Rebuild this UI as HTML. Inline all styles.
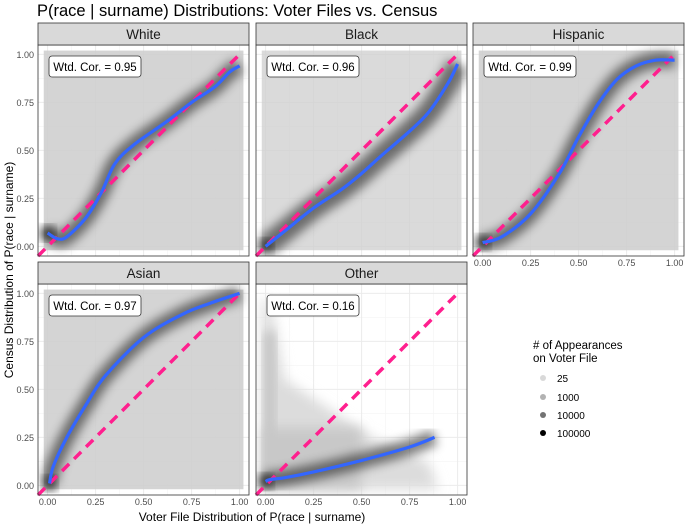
<!DOCTYPE html>
<html><head><meta charset="utf-8"><style>
body{margin:0;background:#fff;}
svg{display:block;font-family:"Liberation Sans",sans-serif;}
</style></head><body>
<svg id="chart" width="685" height="525" viewBox="0 0 685 525">
<defs><filter id="blur" x="-20%" y="-20%" width="140%" height="140%"><feGaussianBlur stdDeviation="5"/></filter>
<filter id="blur2" x="-20%" y="-20%" width="140%" height="140%"><feGaussianBlur stdDeviation="6"/></filter></defs>
<text x="37" y="16" font-size="16.5" fill="#000">P(race | surname) Distributions: Voter Files vs. Census</text>
<text transform="translate(13,270) rotate(-90)" text-anchor="middle" font-size="12">Census Distribution of P(race | surname)</text>
<text x="252" y="521" text-anchor="middle" font-size="12">Voter File Distribution of P(race | surname)</text>
<g>
<text x="533" y="349" font-size="11.5">&#35; of Appearances</text>
<text x="533" y="362" font-size="11.5">on Voter File</text>
<circle cx="543" cy="378" r="3" fill="#000" opacity="0.15"/><text x="557" y="382" font-size="10">25</text>
<circle cx="543" cy="397" r="3" fill="#000" opacity="0.3"/><text x="557" y="401" font-size="10">1000</text>
<circle cx="543" cy="415" r="3" fill="#000" opacity="0.55"/><text x="557" y="419" font-size="10">10000</text>
<circle cx="543" cy="433" r="3" fill="#000" opacity="1"/><text x="557" y="437" font-size="10">100000</text>
</g>
</svg>
<script>
const panelNames = ["White","Black","Hispanic","Asian","Other"];
const correlations = ["0.95","0.96","0.99","0.97","0.16"];
const tickValues = [0,0.25,0.5,0.75,1];
const tickLabels = ["0.00","0.25","0.50","0.75","1.00"];
const smoothWhiteX = [0,0.05,0.1,0.2,0.28,0.35,0.45,0.62,0.75,0.87,0.95,1];
const smoothWhiteY = [0.07,0.04,0.05,0.15,0.28,0.43,0.53,0.65,0.75,0.83,0.91,0.94];
const smoothBlackX = [0,0.1,0.25,0.4,0.5,0.6,0.75,0.85,0.95,1];
const smoothBlackY = [0,0.08,0.2,0.3,0.38,0.47,0.6,0.7,0.85,0.95];
const smoothHispanicX = [0,0.1,0.25,0.4,0.5,0.6,0.7,0.8,0.9,1];
const smoothHispanicY = [0.02,0.05,0.17,0.38,0.57,0.74,0.87,0.94,0.97,0.97];
const smoothAsianX = [0.01,0.03,0.1,0.2,0.3,0.5,0.7,0.85,1];
const smoothAsianY = [0.01,0.1,0.25,0.42,0.57,0.77,0.89,0.95,1];
const smoothOtherX = [0,0.02,0.1,0.25,0.5,0.75,0.88];
const smoothOtherY = [0.02,0.03,0.04,0.07,0.13,0.2,0.25];
const smoothX=[smoothWhiteX,smoothBlackX,smoothHispanicX,smoothAsianX,smoothOtherX];
const smoothY=[smoothWhiteY,smoothBlackY,smoothHispanicY,smoothAsianY,smoothOtherY];

const NS="http://www.w3.org/2000/svg";
const svg=document.getElementById("chart");
const colX=[38,256,473], stripTop=[23,262], W=211, SH=22;
function mk(tag,attrs,parent){const e=document.createElementNS(NS,tag);for(const k in attrs)e.setAttribute(k,attrs[k]);(parent||svg).appendChild(e);return e;}
function smoothPath(xs,ys,sx,sy){
  const p=xs.map((x,i)=>[sx(x),sy(ys[i])]);
  let d="M"+p[0][0]+","+p[0][1];
  for(let i=0;i<p.length-1;i++){
    const p0=p[i-1]||p[i],p1=p[i],p2=p[i+1],p3=p[i+2]||p2;
    const c1=[p1[0]+(p2[0]-p0[0])/6,p1[1]+(p2[1]-p0[1])/6],c2=[p2[0]-(p3[0]-p1[0])/6,p2[1]-(p3[1]-p1[1])/6];
    d+=" C"+c1+" "+c2+" "+p2;
  }
  return d;
}
panelNames.forEach((name,i)=>{
  const row=Math.floor(i/3),col=i%3;
  const x0=colX[col],st=stripTop[row],y0=st+SH;
  const sx=v=>x0+9.6+v*192, sy=v=>y0+201.4-v*192;
  const g=mk("g",{});
  
  
  const clipId="clip"+i;
  const cp=mk("clipPath",{id:clipId},g);mk("rect",{x:x0,y:y0,width:W,height:W},cp);
  mk("rect",{x:x0,y:y0,width:W,height:W,fill:"#fff"},g);
  const minor=[0.125,0.375,0.625,0.875];
  minor.forEach(v=>{mk("line",{x1:sx(v),x2:sx(v),y1:y0,y2:y0+W,stroke:"#f4f4f4","stroke-width":0.6},g);mk("line",{y1:sy(v),y2:sy(v),x1:x0,x2:x0+W,stroke:"#f4f4f4","stroke-width":0.6},g);});
  tickValues.forEach(v=>{mk("line",{x1:sx(v),x2:sx(v),y1:y0,y2:y0+W,stroke:"#ebebeb","stroke-width":1},g);mk("line",{y1:sy(v),y2:sy(v),x1:x0,x2:x0+W,stroke:"#ebebeb","stroke-width":1},g);});
  const cloud=mk("g",{"clip-path":"url(#"+clipId+")"},g);
  
  
  if(name!=="Other"){
    mk("rect",{x:sx(-0.02),y:sy(1.02),width:sx(1.02)-sx(-0.02),height:sy(-0.02)-sy(1.02),fill:"#cdcdcd",opacity:name==="Black"?0.75:0.85},cloud);
  } else {
    mk("polygon",{points:[[sx(0),sy(0.98)],[sx(0.05),sy(0.85)],[sx(0.1),sy(0.55)],[sx(0.3),sy(0.42)],[sx(0.55),sy(0.25)],[sx(0.85),sy(0.12)],[sx(0.9),sy(-0.02)],[sx(-0.02),sy(-0.02)],[sx(-0.02),sy(0.98)]].join(" "),fill:"#dcdcdc",filter:"url(#blur2)"},cloud);
    mk("rect",{x:sx(-0.01),y:sy(0.8),width:sx(0.05)-sx(-0.01),height:sy(-0.02)-sy(0.8),fill:"#c4c4c4",filter:"url(#blur)"},cloud);
    mk("rect",{x:sx(-0.01),y:sy(0.3),width:sx(0.5)-sx(-0.01),height:sy(-0.02)-sy(0.3),fill:"#c8c8c8",filter:"url(#blur2)"},cloud);
  }
  mk("path",{d:smoothPath(smoothX[i],smoothY[i],sx,sy),fill:"none",stroke:"#000","stroke-width":name==="Black"?22:16,opacity:0.5,filter:"url(#blur)"},cloud);
  mk("circle",{cx:sx(smoothX[i][0]),cy:sy(smoothY[i][0]),r:7,fill:"#000",opacity:0.8,filter:"url(#blur)"},cloud);
  const diag=mk("line",{x1:x0,y1:y0+W,x2:sx(1),y2:sy(1),stroke:"#ff1f8e","stroke-width":3.5,"stroke-dasharray":"10,7"},g);
  
  
  const sm=mk("path",{d:smoothPath(smoothX[i],smoothY[i],sx,sy),fill:"none",stroke:"#3366ff","stroke-width":3.2},g);
  
  
  mk("rect",{x:x0,y:y0,width:W,height:W,fill:"none",stroke:"#333","stroke-width":0.8},g);
  const strip=mk("rect",{x:x0,y:st,width:W,height:SH,fill:"#d9d9d9",stroke:"#333","stroke-width":0.8},g);
  
  
  const stt=mk("text",{x:x0+W/2,y:st+16,"text-anchor":"middle","font-size":13.5,fill:"#1a1a1a"},g);stt.textContent=name;
  
  
  const lb=mk("g",{},g);
  
  
  mk("rect",{x:x0+11,y:y0+11,width:92,height:21,rx:3,fill:"#fff",stroke:"#333","stroke-width":0.8},lb);
  const lt=mk("text",{x:x0+57,y:y0+26,"text-anchor":"middle","font-size":11.5},lb);lt.textContent="Wtd. Cor. = "+correlations[i];
  if(col===0){tickValues.forEach((v,k)=>{const t=mk("text",{x:x0-4,y:sy(v)+3.5,"text-anchor":"end","font-size":9,fill:"#4d4d4d"},g);t.textContent=tickLabels[k];
    
    });}
  if(row===1||col===2){tickValues.forEach((v,k)=>{const t=mk("text",{x:sx(v),y:y0+W+10,"text-anchor":"middle","font-size":9,fill:"#4d4d4d"},g);t.textContent=tickLabels[k];
    
    });}
});
</script>
</body></html>
